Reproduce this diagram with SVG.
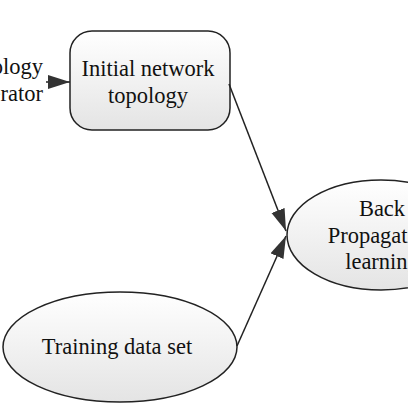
<svg xmlns="http://www.w3.org/2000/svg" width="408" height="408" viewBox="0 0 408 408">
<style>
.node{fill:url(#g);stroke:#222;stroke-width:1.5}
.t{font-family:"Liberation Serif","Times New Roman",serif;font-size:22.5px;fill:#111;text-anchor:middle}
.c{stroke:#222;stroke-width:1.5;fill:none;marker-end:url(#ah)}
</style>
<defs>
<linearGradient id="g" x1="0" y1="0" x2="0" y2="1">
<stop offset="0" stop-color="#ffffff"/>
<stop offset="1" stop-color="#e4e4e4"/>
</linearGradient>
<marker id="ah" markerUnits="userSpaceOnUse" markerWidth="24" markerHeight="16" refX="22" refY="7" orient="auto">
<path d="M0,0 L22,7 L0,14 z" fill="#333"/>
</marker>
</defs>
<rect width="408" height="408" fill="#fff"/>
<g id="topology-generator">
<text class="t" style="text-anchor:end" x="43" y="74">Topology</text>
<text class="t" style="text-anchor:end" x="43" y="101">generator</text>
</g>
<g id="initial-network">
<rect class="node" x="70" y="31" width="160" height="99" rx="22" ry="22"/>
<text class="t" x="148" y="76">Initial network</text>
<text class="t" x="148" y="103">topology</text>
</g>
<g id="bp-learning">
<ellipse class="node" cx="381" cy="235" rx="94" ry="55"/>
<text class="t" x="382" y="216">Back</text>
<text class="t" x="382" y="243">Propagation</text>
<text class="t" x="382" y="269">learning</text>
</g>
<g id="training-data">
<ellipse class="node" cx="120" cy="347" rx="117" ry="55"/>
<text class="t" x="117" y="354">Training data set</text>
</g>
<g id="connectors">
<path class="c" d="M46,82 L70,82"/>
<path class="c" d="M229,84 L286,231"/>
<path class="c" d="M237,346 L286,236"/>
</g>
</svg>
